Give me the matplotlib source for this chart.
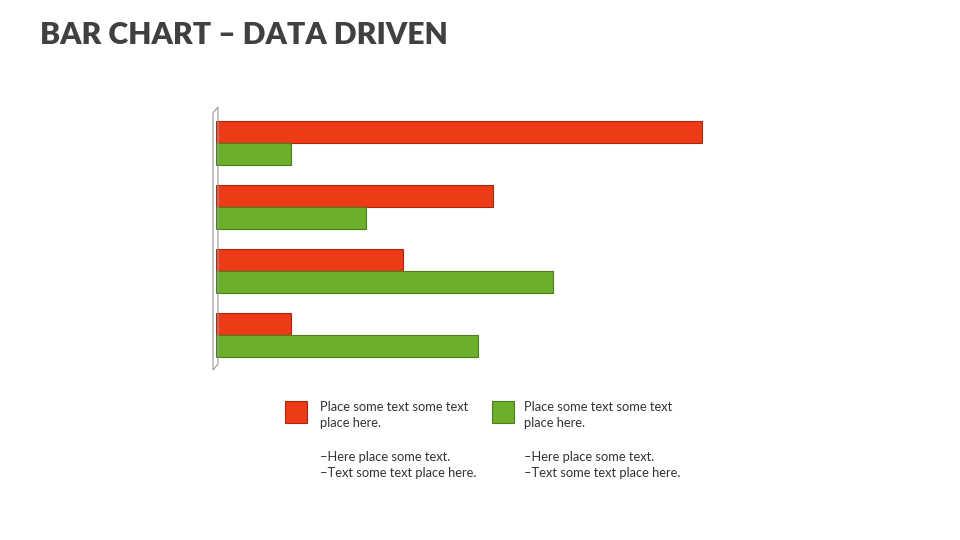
import matplotlib
matplotlib.use("Agg")
import matplotlib.pyplot as plt
from matplotlib.patches import Polygon, Rectangle

categories = ["Category 1", "Category 2", "Category 3", "Category 4"]
series_red = [6.5, 3.7, 2.5, 1.0]
series_green = [1.0, 2.0, 4.5, 3.5]
title = "BAR CHART \u2013 DATA DRIVEN"
legend_head = "Place some text some text\nplace here."
legend_body = "\u2013Here place some text.\n\u2013Text some text place here."

RED = "#EE3B17"
RED_EDGE = "#A8280C"
GREEN = "#6CAF2B"
GREEN_EDGE = "#4A7F1A"

W, H = 960, 540
fig = plt.figure(figsize=(9.6, 5.4), dpi=100)

def fx(px):
    return px / W

def fy(py):
    return 1 - py / H

plt.rcParams['font.family'] = ['Lato', 'DejaVu Sans']

# axes
ax = fig.add_axes([fx(216), fy(367), fx(598), (367 - 111) / H])
ypos = list(range(len(categories)))
h = 0.344
ax.barh([y - h / 2 for y in ypos], series_red, height=h, color=RED,
        edgecolor=RED_EDGE, linewidth=0.8)
ax.barh([y + h / 2 for y in ypos], series_green, height=h, color=GREEN,
        edgecolor=GREEN_EDGE, linewidth=0.8)
ax.set_xlim(0, 598 / 74.8)
ax.set_ylim(3.5, -0.5)
ax.axis("off")

# 3D-looking wall
wall = Polygon([(fx(213), fy(113)), (fx(218), fy(107)), (fx(218), fy(364)),
                (fx(213), fy(370))], closed=True, transform=fig.transFigure,
               facecolor="none", edgecolor="#9a9a9a", linewidth=0.8)
fig.patches.append(wall)

# title
fig.text(fx(40), fy(35), title, fontsize=21.7, fontweight="heavy",
         color="#404040", va="center", ha="left")

# legend blocks
for sx, tx, col, ecol in [(285, 320, RED, RED_EDGE), (492, 524, GREEN, GREEN_EDGE)]:
    sq = Rectangle((fx(sx), fy(423)), fx(22), 22 / H, transform=fig.transFigure,
                   facecolor=col, edgecolor=ecol, linewidth=0.8)
    fig.patches.append(sq)
    fig.text(fx(tx), fy(401), legend_head, fontsize=9.25, color="#333333",
             va="top", ha="left", linespacing=1.4)
    fig.text(fx(tx), fy(451), legend_body, fontsize=9.25, color="#333333",
             va="top", ha="left", linespacing=1.4)

fig.savefig("out.png", dpi=100)
